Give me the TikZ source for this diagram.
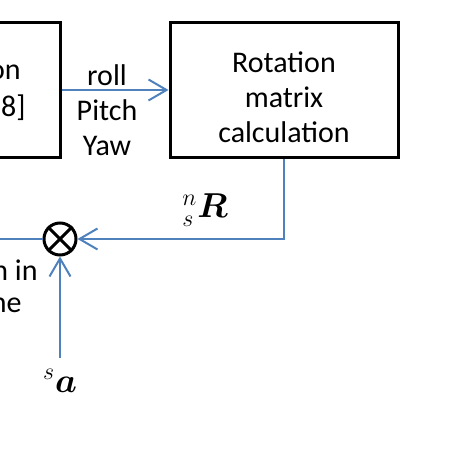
\documentclass[tikz,border=0pt]{standalone}
\usepackage{amsmath,amssymb}
\usepackage{fontspec}
\setmainfont{Carlito}
\usepackage{tikz}
\usetikzlibrary{arrows.meta}
\definecolor{flowblue}{RGB}{79,129,189}

\begin{document}
\begin{tikzpicture}[x=0.5pt,y=-0.5pt,
        font=\fontsize{15}{17.5}\selectfont,
        block/.style={draw,line width=1.5pt,minimum width=114pt,minimum height=67.5pt,
            inner sep=0pt},
        flow/.style={draw=flowblue,line width=1pt,-{Straight Barb[length=9pt,width=10.5pt]}},
        wire/.style={draw=flowblue,line width=1pt},
        cut/.style={anchor=east,inner sep=0pt},
        sym/.style={font=\fontsize{17}{20}\selectfont}]
    \useasboundingbox (0,0) rectangle (474,474);
    \clip (0,0) rectangle (474,474);
    \node[block,minimum width=80pt] (att) at (-20,90.5) {};
    \node[cut] (att1) at (21,72) {on};
    \node[cut] (att2) at (26,108) {8]};
    \node[block] (rot) at (284,90.5) {};
    \node[align=center] (rottxt) at ([yshift=-3.5pt]rot.center) {Rotation\\matrix\\calculation};
    \node[circle,draw,line width=1.5pt,minimum size=16pt,inner sep=0pt] (mul) at (60,239) {};
    \draw[line width=1.5pt] (mul.north west) -- (mul.south east)
        (mul.north east) -- (mul.south west);
    \coordinate (accin) at (-10,239);
    \coordinate (sain) at (60,358);
    \node[cut] (nav1) at (38,270) {n in};
    \node[cut] (nav2) at (22,305) {ne};
    \node[sym] (sa) at (60,381) {$^{s}\boldsymbol{a}$};
    \draw[flow] (att.east |- 0,90) -- (rot.west |- 0,90);
    \node[align=center] (rpy) at (107,110) {roll\\Pitch\\Yaw};
    \draw[flow] (rot.south) |- (mul.east);
    \node[sym] (nsr) at (205,210) {${}^{n}_{s}\boldsymbol{R}$};
    \draw[wire] (accin) -- (mul.west);
    \draw[flow] (sain) -- (mul.south);
\end{tikzpicture}
\end{document}
